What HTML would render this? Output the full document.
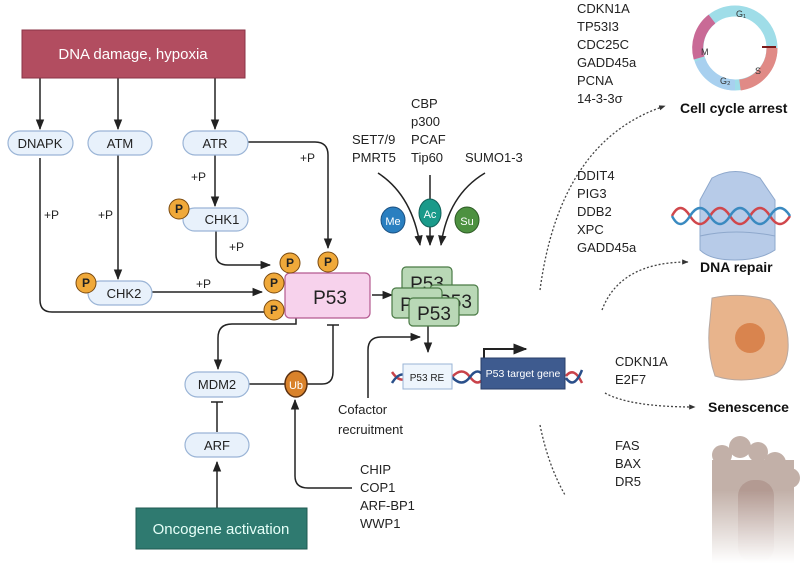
<!DOCTYPE html>
<html><head><meta charset="utf-8"><style>
body{margin:0;background:#fff}
svg{display:block;font-family:"Liberation Sans",sans-serif}
</style></head><body>
<svg width="800" height="563" viewBox="0 0 800 563" xmlns="http://www.w3.org/2000/svg">
<defs>
<marker id="a" viewBox="0 0 10 10" refX="9" refY="5" markerWidth="7" markerHeight="7" orient="auto"><path d="M0,1 L10,5 L0,9 z" fill="#222"/></marker>
<marker id="d" viewBox="0 0 10 10" refX="9" refY="5" markerWidth="5" markerHeight="5" orient="auto"><path d="M0,1 L10,5 L0,9 z" fill="#333"/></marker>
<linearGradient id="fade" x1="0" y1="0" x2="0" y2="1"><stop offset="0" stop-color="#fff" stop-opacity="0"/><stop offset="1" stop-color="#fff" stop-opacity="1"/></linearGradient>
</defs>
<g stroke="#222" stroke-width="1.5" fill="none">
<line x1="40" y1="78" x2="40" y2="129" marker-end="url(#a)"/>
<line x1="118" y1="78" x2="118" y2="129" marker-end="url(#a)"/>
<line x1="215" y1="78" x2="215" y2="129" marker-end="url(#a)"/>
<line x1="118" y1="155" x2="118" y2="279" marker-end="url(#a)"/>
<line x1="215" y1="155" x2="215" y2="206" marker-end="url(#a)"/>
<path d="M248,142 H315 Q328,142 328,155 V248" marker-end="url(#a)"/>
<path d="M216,231 V255 Q216,265 228,265 H270" marker-end="url(#a)"/>
<line x1="152" y1="292" x2="262" y2="292" marker-end="url(#a)"/>
<path d="M40,158 V300 Q40,312 52,312 H265"/>
<line x1="372" y1="295" x2="392" y2="295" marker-end="url(#a)"/>
<path d="M378,173 Q412,195 420,245" marker-end="url(#a)"/>
<line x1="430" y1="175" x2="430" y2="245" marker-end="url(#a)"/>
<path d="M485,173 Q448,195 441,245" marker-end="url(#a)"/>
<path d="M296,318 V324 H232 Q218,324 218,338 V369" marker-end="url(#a)"/>
<line x1="249" y1="384" x2="285" y2="384"/>
<path d="M307,384 H322 Q333,384 333,372 V325"/>
<line x1="327" y1="325" x2="339" y2="325"/>
<line x1="217" y1="432" x2="217" y2="402"/>
<line x1="211" y1="402" x2="223" y2="402"/>
<line x1="217" y1="508" x2="217" y2="462" marker-end="url(#a)"/>
<path d="M352,488 H308 Q295,488 295,476 V400" marker-end="url(#a)"/>
<path d="M368,398 V350 Q368,337 381,337 H420" marker-end="url(#a)"/>
<line x1="428" y1="325" x2="428" y2="352" marker-end="url(#a)"/>
<path d="M484,358 V349 H526" marker-end="url(#a)" stroke-width="2"/>
</g>
<g stroke="#444" stroke-width="1.3" fill="none" stroke-dasharray="2,2">
<path d="M540,290 Q560,140 665,106" marker-end="url(#d)"/>
<path d="M602,310 Q620,262 688,262" marker-end="url(#d)"/>
<path d="M605,393 Q630,407 695,407" marker-end="url(#d)"/>
<path d="M540,425 Q548,465 565,495"/>
</g>
<rect x="22" y="30" width="223" height="48" fill="#b24d60" stroke="#8a3346"/>
<text x="133" y="59" fill="#fff" font-size="15" text-anchor="middle">DNA damage, hypoxia</text>
<rect x="136" y="508" width="171" height="41" fill="#2f7a70" stroke="#1f5a52"/>
<text x="221" y="534" fill="#e6fff8" font-size="15" text-anchor="middle">Oncogene activation</text>
<g fill="#e8f1fb" stroke="#9ab4d6" stroke-width="1.2">
<rect x="8" y="131" width="65" height="24" rx="12"/>
<rect x="88" y="131" width="64" height="24" rx="12"/>
<rect x="183" y="131" width="65" height="24" rx="12"/>
<rect x="183" y="208" width="65" height="23" rx="11.5"/>
<rect x="88" y="281" width="64" height="24" rx="12"/>
<rect x="185" y="372" width="64" height="25" rx="12.5"/>
<rect x="185" y="433" width="64" height="24" rx="12"/>
</g>
<g font-size="13" fill="#222" text-anchor="middle">
<text x="40" y="148">DNAPK</text><text x="120" y="148">ATM</text><text x="215" y="148">ATR</text>
<text x="222" y="224">CHK1</text><text x="124" y="298">CHK2</text>
<text x="217" y="389">MDM2</text><text x="217" y="450">ARF</text>
</g>
<g font-size="12" fill="#222">
<text x="44" y="219">+P</text><text x="98" y="219">+P</text><text x="191" y="181">+P</text>
<text x="229" y="251">+P</text><text x="196" y="288">+P</text><text x="300" y="162">+P</text>
</g>
<rect x="285" y="273" width="85" height="45" rx="5" fill="#f7d2ec" stroke="#b45a90" stroke-width="1.2"/>
<text x="330" y="304" font-size="19" text-anchor="middle" fill="#222">P53</text>
<g fill="#f0a93a" stroke="#7a4a10" stroke-width="1">
<circle cx="179" cy="209" r="10"/><circle cx="86" cy="283" r="10"/>
<circle cx="290" cy="263" r="10"/><circle cx="328" cy="262" r="10"/>
<circle cx="274" cy="283" r="10"/><circle cx="274" cy="310" r="10"/>
</g>
<g font-size="12" font-weight="bold" text-anchor="middle" fill="#222">
<text x="179" y="213">P</text><text x="86" y="287">P</text><text x="290" y="267">P</text>
<text x="328" y="266">P</text><text x="274" y="287">P</text><text x="274" y="314">P</text>
</g>
<ellipse cx="296" cy="384" rx="11" ry="13" fill="#d9822b" stroke="#5a3010" stroke-width="1.5"/>
<text x="296" y="389" font-size="11" fill="#fff" text-anchor="middle">Ub</text>
<ellipse cx="393" cy="220" rx="12" ry="13" fill="#2a7fc0" stroke="#1a4f80"/>
<text x="393" y="225" font-size="11" fill="#fff" text-anchor="middle">Me</text>
<ellipse cx="430" cy="213" rx="11" ry="14" fill="#1a9a8a" stroke="#106058"/>
<text x="430" y="218" font-size="11" fill="#fff" text-anchor="middle">Ac</text>
<ellipse cx="467" cy="220" rx="12" ry="13" fill="#4d9140" stroke="#2d5a25"/>
<text x="467" y="225" font-size="11" fill="#fff" text-anchor="middle">Su</text>
<g font-size="13" fill="#222">
<text x="352" y="144">SET7/9</text><text x="352" y="162">PMRT5</text>
<text x="411" y="108">CBP</text><text x="411" y="126">p300</text><text x="411" y="144">PCAF</text><text x="411" y="162">Tip60</text>
<text x="465" y="162">SUMO1-3</text>
<text x="338" y="414">Cofactor</text><text x="338" y="434">recruitment</text>
<text x="360" y="474">CHIP</text><text x="360" y="492">COP1</text><text x="360" y="510">ARF-BP1</text><text x="360" y="528">WWP1</text>
</g>
<!-- P53 stack, back to front -->
<g stroke="#4a7a45" stroke-width="1.2" font-size="19" text-anchor="middle">
<rect x="402" y="267" width="50" height="30" rx="4" fill="#b9d8b6"/>
<text x="427" y="290" fill="#222" stroke="none">P53</text>
<rect x="430" y="285" width="48" height="30" rx="4" fill="#b9d8b6"/>
<text x="455" y="308" fill="#222" stroke="none">P53</text>
<rect x="392" y="288" width="50" height="30" rx="4" fill="#b9d8b6"/>
<text x="417" y="311" fill="#222" stroke="none">P53</text>
<rect x="409" y="298" width="50" height="28" rx="4" fill="#b9d8b6"/>
<text x="434" y="320" fill="#222" stroke="none">P53</text>
</g>
<g fill="none" stroke-width="2.5">
<path d="M392,372 Q400,384 408,377 M452,377 Q462,366 470,377 Q478,388 484,377 M566,376 Q574,366 582,383" stroke="#c9434a"/>
<path d="M392,383 Q400,370 408,377 M452,377 Q462,388 470,377 Q478,366 484,377 M566,378 Q574,390 582,370" stroke="#2a4f8a"/>
</g>
<rect x="403" y="364" width="49" height="25" fill="#eef5fc" stroke="#9ab4d6"/>
<text x="427" y="381" font-size="10" fill="#222" text-anchor="middle">P53 RE</text>
<rect x="481" y="358" width="84" height="31" fill="#3e5b8f" stroke="#2a3f6a"/>
<text x="523" y="377" font-size="10.5" fill="#fff" text-anchor="middle">P53 target gene</text>
<g font-size="13" fill="#222">
<text x="577" y="13">CDKN1A</text><text x="577" y="31">TP53I3</text><text x="577" y="49">CDC25C</text><text x="577" y="67">GADD45a</text><text x="577" y="85">PCNA</text><text x="577" y="103">14-3-3σ</text>
<text x="577" y="180">DDIT4</text><text x="577" y="198">PIG3</text><text x="577" y="216">DDB2</text><text x="577" y="234">XPC</text><text x="577" y="252">GADD45a</text>
<text x="615" y="366">CDKN1A</text><text x="615" y="384">E2F7</text>
<text x="615" y="450">FAS</text><text x="615" y="468">BAX</text><text x="615" y="486">DR5</text>
</g>
<g font-size="14" font-weight="bold" fill="#111">
<text x="680" y="113">Cell cycle arrest</text>
<text x="700" y="272">DNA repair</text>
<text x="708" y="412">Senescence</text>
</g>
<g fill="none" stroke-width="11">
<circle cx="735" cy="48" r="37" stroke="#9fdde8"/>
<path d="M772,48 A37,37 0 0 1 740,85" stroke="#e08a86"/>
<path d="M735,85 A37,37 0 0 1 700,60" stroke="#a8d0ef"/>
<path d="M699,58 A37,37 0 0 1 712,19" stroke="#c96a96"/>
</g>
<line x1="762" y1="47" x2="776" y2="47" stroke="#7a1a1a" stroke-width="2"/>
<g font-size="9" fill="#333"><text x="736" y="17">G₁</text><text x="701" y="55">M</text><text x="755" y="74">S</text><text x="720" y="84">G₂</text></g>
<path d="M712,178 Q735,165 760,178 L775,200 L775,250 Q760,260 735,260 Q710,260 700,250 L700,200 Z" fill="#b7cbe8" stroke="#8ea8cc"/>
<path d="M700,236 Q735,228 775,236" fill="none" stroke="#8ea8cc"/>
<g fill="none" stroke-width="2.5">
<path d="M672,216 Q680,200 690,216 Q700,232 710,216 Q720,200 730,216 Q740,232 750,216 Q760,200 770,216 Q780,232 790,216" stroke="#d0474c"/>
<path d="M672,216 Q680,232 690,216 Q700,200 710,216 Q720,232 730,216 Q740,200 750,216 Q760,232 770,216 Q780,200 790,216" stroke="#3a8ac0"/>
</g>
<path d="M712,298 Q740,292 770,300 Q790,320 788,350 Q786,372 770,376 Q740,384 715,376 Q706,350 710,320 Z" fill="#e8b48c" stroke="#b8a8a0"/>
<circle cx="750" cy="338" r="15" fill="#d9844e"/>
<g fill="#c2b0a8">
<circle cx="722" cy="455" r="10"/><circle cx="740" cy="447" r="11"/><circle cx="758" cy="452" r="10"/><circle cx="775" cy="463" r="11"/><circle cx="790" cy="478" r="10"/>
<rect x="712" y="460" width="82" height="103"/>
</g>
<rect x="738" y="480" width="36" height="83" rx="16" fill="#b39a92"/>
<rect x="560" y="490" width="240" height="73" fill="url(#fade)"/>
</svg>
</body></html>
